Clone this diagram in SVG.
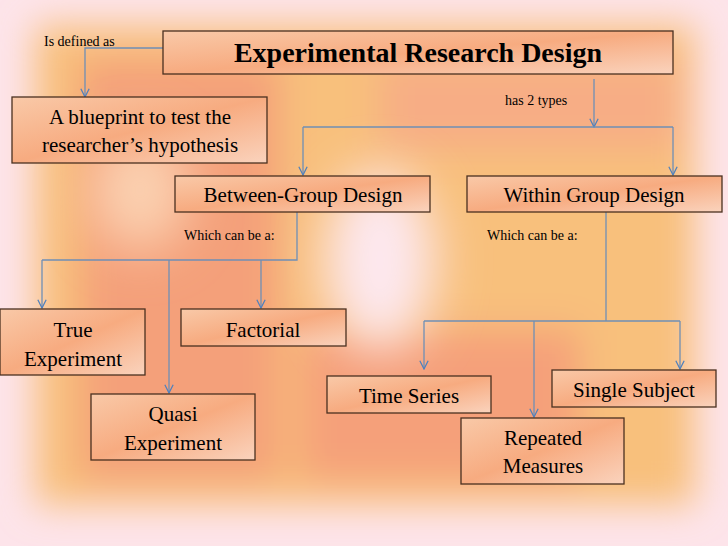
<svg xmlns="http://www.w3.org/2000/svg" width="728" height="546" viewBox="0 0 728 546">
<defs>
<filter id="blur" x="-20%" y="-20%" width="140%" height="140%"><feGaussianBlur stdDeviation="18"/></filter>
<filter id="blur2" x="-50%" y="-50%" width="200%" height="200%"><feGaussianBlur stdDeviation="25"/></filter>
<linearGradient id="boxg" x1="0" y1="0" x2="1" y2="1">
<stop offset="0" stop-color="#f9c9a8"/><stop offset="0.5" stop-color="#f7ab80"/><stop offset="1" stop-color="#fad3bd"/>
</linearGradient>
<marker id="arr" viewBox="0 0 10 10" refX="9" refY="5" markerWidth="8" markerHeight="8" orient="auto">
<path d="M1,1 L9,5 L1,9" fill="none" stroke="#4f81bd" stroke-width="1.2"/>
</marker>
<style>
.box{fill:url(#boxg);stroke:#4a3020;stroke-width:1.3}
.t{font-family:"Liberation Serif","Times New Roman",serif;font-size:21px;fill:#000;text-anchor:middle}
.l{font-family:"Liberation Serif","Times New Roman",serif;font-size:14px;fill:#000}
.c{fill:none;stroke:#6f8fb5;stroke-width:1.3}
.a{marker-end:url(#arr)}
</style>
</defs>
<rect width="728" height="546" fill="#fde4ea"/>
<g filter="url(#blur)">
<rect x="35" y="25" width="660" height="480" fill="#f8c07c"/>
<rect x="80" y="60" width="200" height="420" fill="#f4a07a"/>
<rect x="300" y="330" width="280" height="150" fill="#f5a07a"/>
<rect x="380" y="60" width="300" height="90" fill="#f7ad85"/>
</g>
<g filter="url(#blur2)">
<ellipse cx="380" cy="260" rx="55" ry="90" fill="#fde8ef"/>
<ellipse cx="140" cy="190" rx="50" ry="60" fill="#fbd0b0"/>
</g>
<g id="connectors">
<path class="c a" d="M163,48 H85 V97"/>
<path class="c a" d="M594,79 V127"/>
<path class="c" d="M303,127 H673"/>
<path class="c a" d="M303,127 V175"/>
<path class="c a" d="M673,127 V175"/>
<path class="c" d="M297,212 V260 H42"/>
<path class="c a" d="M42,260 V308"/>
<path class="c a" d="M169,260 V393"/>
<path class="c a" d="M261,260 V308"/>
<path class="c" d="M606,212 V321"/>
<path class="c" d="M424,321 H680"/>
<path class="c a" d="M424,321 V369"/>
<path class="c a" d="M680,321 V369"/>
<path class="c a" d="M534,321 V417"/>
</g>
<g id="labels">
<text class="l" x="44" y="46">Is defined as</text>
<text class="l" x="505" y="105">has 2 types</text>
<text class="l" x="184" y="240">Which can be a:</text>
<text class="l" x="487" y="240">Which can be a:</text>
</g>
<g id="title"><rect class="box" x="163" y="31" width="510" height="43"/>
<text class="t" x="418" y="62" style="font-size:28px;font-weight:bold">Experimental Research Design</text></g>
<g id="blueprint"><rect class="box" x="12" y="97" width="255" height="66"/>
<text class="t" x="140" y="124">A blueprint to test the</text><text class="t" x="140" y="152">researcher’s hypothesis</text></g>
<g id="between"><rect class="box" x="175" y="176" width="255" height="36"/>
<text class="t" x="303" y="202">Between-Group Design</text></g>
<g id="within"><rect class="box" x="467" y="176" width="255" height="36"/>
<text class="t" x="594" y="202">Within Group Design</text></g>
<g id="true"><rect class="box" x="0" y="309" width="145" height="66"/>
<text class="t" x="73" y="337">True</text><text class="t" x="73" y="366">Experiment</text></g>
<g id="factorial"><rect class="box" x="181" y="309" width="165" height="37"/>
<text class="t" x="263" y="337">Factorial</text></g>
<g id="quasi"><rect class="box" x="91" y="394" width="164" height="66"/>
<text class="t" x="173" y="421">Quasi</text><text class="t" x="173" y="450">Experiment</text></g>
<g id="timeseries"><rect class="box" x="327" y="376" width="164" height="37"/>
<text class="t" x="409" y="403">Time Series</text></g>
<g id="single"><rect class="box" x="552" y="370" width="164" height="37"/>
<text class="t" x="634" y="397">Single Subject</text></g>
<g id="repeated"><rect class="box" x="461" y="418" width="163" height="66"/>
<text class="t" x="543" y="445">Repeated</text><text class="t" x="543" y="473">Measures</text></g>
</svg>
